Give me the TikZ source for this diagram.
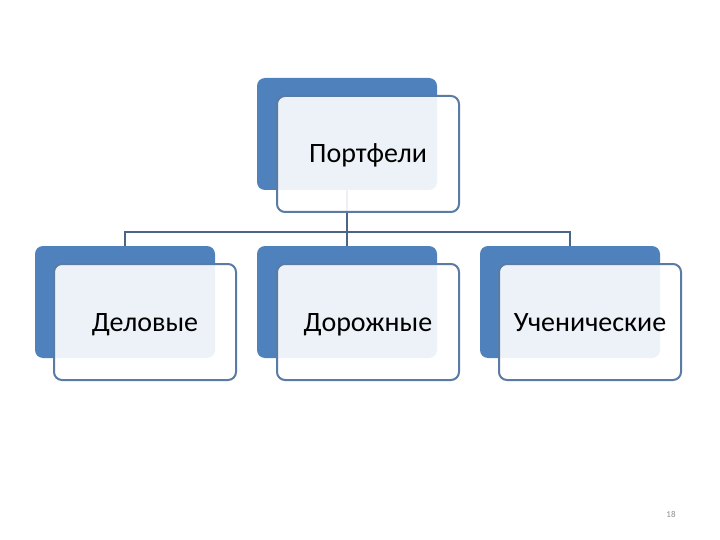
\documentclass[tikz,border=0pt]{standalone}
\usepackage{fontspec}
\setmainfont{Carlito}
\usetikzlibrary{positioning}
\definecolor{accent}{HTML}{4F81BD}
\definecolor{frame}{HTML}{5A7BA3}
\definecolor{wire}{HTML}{4A6587}
\tikzstyle{backbox}=[rectangle,rounded corners=8pt,fill=accent,minimum width=180pt,minimum height=112pt,inner sep=0pt]
\tikzstyle{frontbox}=[rectangle,rounded corners=8pt,draw=frame,line width=2pt,fill=white,fill opacity=0.9,text opacity=1,minimum width=182pt,minimum height=116pt,inner sep=0pt,text height=18pt,text depth=0pt,font=\fontsize{28}{32}\selectfont]
\tikzstyle{wire}=[draw=wire,line width=1.5pt]

\begin{document}
\begin{tikzpicture}[x=1pt,y=-1pt]
    \useasboundingbox (0,0) rectangle (720,540);
    % back plates first, then the tree lines, then the front cards
    \node[backbox] (topback) at (347,134) {};
    \foreach \pos/\name in {{(125,302)/del}, {(347,302)/dor}, {(570,302)/uch}}
        \node[backbox] (\name back) at \pos {};

    \foreach \name in {del,dor,uch}
        \path[wire] (topback.south) -- ++(0,42) -| (\name back.north);

    \node[frontbox] (top) at (368,154) {Портфели};
    \foreach \pos/\name/\txt in {{(145,322)/del/Деловые}, {(368,322)/dor/Дорожные}, {(590,322)/uch/Ученические}}
        \node[frontbox] (\name) at \pos {\txt};

    \node[text=black!45, font=\fontsize{9}{10}\selectfont] (page) at (671,514) {18};
\end{tikzpicture}
\end{document}
